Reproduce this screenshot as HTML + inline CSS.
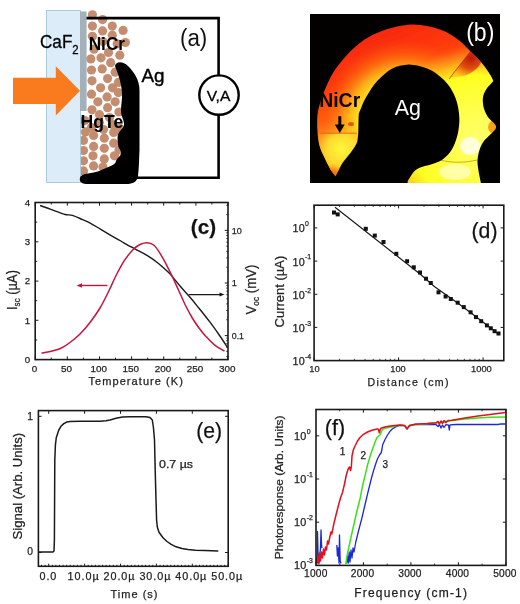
<!DOCTYPE html>
<html lang="en"><head><meta charset="utf-8"><title>Figure</title>
<style>html,body{margin:0;padding:0;background:#fff}body{width:520px;height:604px;overflow:hidden}svg{display:block;font-family:'Liberation Sans', sans-serif}#all{filter:blur(0.45px)}#pc text,#pd text,#pe text,#pf text{stroke:#222;stroke-width:0.25px}</style></head><body>
<svg width="520" height="604" viewBox="0 0 520 604">
<rect width="520" height="604" fill="#fff"/>
<g id="all">
<g id="pa">
<circle cx="92.4" cy="14.8" r="4.6" fill="#c58d70"/>
<circle cx="102.6" cy="19.6" r="4.6" fill="#c58d70"/>
<circle cx="92.4" cy="26.1" r="4.6" fill="#c58d70"/>
<circle cx="112.3" cy="26.1" r="4.6" fill="#c58d70"/>
<circle cx="102.6" cy="30.9" r="4.6" fill="#c58d70"/>
<circle cx="123.1" cy="30.4" r="4.6" fill="#c58d70"/>
<circle cx="112.3" cy="35.2" r="4.6" fill="#c58d70"/>
<circle cx="92.4" cy="36.3" r="4.6" fill="#c58d70"/>
<circle cx="102.8" cy="41.5" r="4.6" fill="#c58d70"/>
<circle cx="117.2" cy="43.8" r="4.6" fill="#c58d70"/>
<circle cx="125.3" cy="42.5" r="4.6" fill="#c58d70"/>
<circle cx="94.0" cy="49.2" r="4.6" fill="#c58d70"/>
<circle cx="108.5" cy="52.5" r="4.6" fill="#c58d70"/>
<circle cx="119.8" cy="55.2" r="4.6" fill="#c58d70"/>
<circle cx="90.8" cy="58.9" r="4.6" fill="#c58d70"/>
<circle cx="101.0" cy="57.8" r="4.6" fill="#c58d70"/>
<circle cx="110.7" cy="62.7" r="4.6" fill="#c58d70"/>
<circle cx="91.5" cy="70.0" r="4.6" fill="#c58d70"/>
<circle cx="102.2" cy="68.9" r="4.6" fill="#c58d70"/>
<circle cx="115.2" cy="72.2" r="4.6" fill="#c58d70"/>
<circle cx="92.0" cy="80.8" r="4.6" fill="#c58d70"/>
<circle cx="107.6" cy="78.6" r="4.6" fill="#c58d70"/>
<circle cx="118.4" cy="82.4" r="4.6" fill="#c58d70"/>
<circle cx="100.6" cy="87.8" r="4.6" fill="#c58d70"/>
<circle cx="112.5" cy="87.8" r="4.6" fill="#c58d70"/>
<circle cx="91.5" cy="94.2" r="4.6" fill="#c58d70"/>
<circle cx="107.1" cy="96.9" r="4.6" fill="#c58d70"/>
<circle cx="118.4" cy="92.6" r="4.6" fill="#c58d70"/>
<circle cx="97.9" cy="101.8" r="4.6" fill="#c58d70"/>
<circle cx="115.2" cy="101.8" r="4.6" fill="#c58d70"/>
<circle cx="107.6" cy="107.7" r="4.6" fill="#c58d70"/>
<circle cx="92.0" cy="109.8" r="4.6" fill="#c58d70"/>
<circle cx="118.9" cy="112.0" r="4.6" fill="#c58d70"/>
<circle cx="99.5" cy="114.7" r="4.6" fill="#c58d70"/>
<circle cx="84.8" cy="120.6" r="4.6" fill="#c58d70"/>
<circle cx="109.5" cy="117.5" r="4.6" fill="#c58d70"/>
<circle cx="99.3" cy="122.5" r="4.6" fill="#c58d70"/>
<circle cx="112.5" cy="124.5" r="4.6" fill="#c58d70"/>
<circle cx="91.5" cy="127.5" r="4.6" fill="#c58d70"/>
<circle cx="119.5" cy="128.0" r="4.6" fill="#c58d70"/>
<circle cx="85.4" cy="131.9" r="4.6" fill="#c58d70"/>
<circle cx="93.6" cy="135.5" r="4.6" fill="#c58d70"/>
<circle cx="104.3" cy="138.2" r="4.6" fill="#c58d70"/>
<circle cx="103.5" cy="129.5" r="4.6" fill="#c58d70"/>
<circle cx="113.7" cy="132.5" r="4.6" fill="#c58d70"/>
<circle cx="83.5" cy="140.4" r="4.6" fill="#c58d70"/>
<circle cx="93.6" cy="146.4" r="4.6" fill="#c58d70"/>
<circle cx="104.3" cy="148.3" r="4.6" fill="#c58d70"/>
<circle cx="113.7" cy="143.2" r="4.6" fill="#c58d70"/>
<circle cx="83.5" cy="150.6" r="4.6" fill="#c58d70"/>
<circle cx="93.0" cy="155.8" r="4.6" fill="#c58d70"/>
<circle cx="104.3" cy="158.9" r="4.6" fill="#c58d70"/>
<circle cx="114.4" cy="155.8" r="4.6" fill="#c58d70"/>
<circle cx="83.5" cy="160.8" r="4.6" fill="#c58d70"/>
<circle cx="93.6" cy="165.9" r="4.6" fill="#c58d70"/>
<circle cx="103.0" cy="167.1" r="4.6" fill="#c58d70"/>
<circle cx="83.5" cy="170.9" r="4.6" fill="#c58d70"/>
<circle cx="119.0" cy="150.0" r="4.6" fill="#c58d70"/>
<rect x="46.5" y="10.5" width="34" height="172" fill="#dcedf9" stroke="#a9cbdc" stroke-width="1"/>
<rect x="80" y="11.5" width="6.6" height="99.5" fill="#a3b2ba"/>
<path d="M115 66 C116 61 123 61 128 66 C134 72 139.5 80 139.5 90 L139.5 150 C139 160 139 168 138 176 C137 182 133 184 126 184 L90 184 C84 184.5 79.5 183 79.8 179 C80 175 84 174 88 173.5 C96 172.5 102 170 106 168 C111 166 115.5 164.5 116 161 C116.5 158 121.5 156 121 152.5 C120.5 149 118 148 118 144 C117.5 140 117 136 118.5 133 C120 130 124.5 128 124 123.5 C123.6 119 121 116 121 111 C121 104 122.5 99 122 93 C121.5 84 119 76 115 66 Z" fill="#000"/>
<path d="M86.5 18.1 H218.6 V75" fill="none" stroke="#000" stroke-width="2.6"/>
<path d="M218.6 115 V177.8 H132" fill="none" stroke="#000" stroke-width="2.6"/>
<circle cx="219" cy="95.1" r="19.7" fill="#fff" stroke="#000" stroke-width="2.4"/>
<path d="M13 77.7 H55.8 V66.2 L80 90.8 L55.8 115.6 V104 H13 Z" fill="#fa7a1e"/>
<text x="40.0" y="48.1" font-size="19" text-anchor="start" font-weight="normal" fill="#000" textLength="38.7" lengthAdjust="spacingAndGlyphs" stroke="#000" stroke-width="0.3">CaF<tspan font-size="12.6" dy="5.6">2</tspan></text>
<text x="88.7" y="49.8" font-size="19" text-anchor="start" font-weight="bold" fill="#000" textLength="36.3" lengthAdjust="spacingAndGlyphs" >NiCr</text>
<text x="80.6" y="128.3" font-size="19" text-anchor="start" font-weight="bold" fill="#000" textLength="42.7" lengthAdjust="spacingAndGlyphs" >HgTe</text>
<text x="141.5" y="82.1" font-size="18.3" text-anchor="start" font-weight="normal" fill="#000" textLength="23.1" lengthAdjust="spacingAndGlyphs" stroke="#000" stroke-width="0.4">Ag</text>
<text x="180.0" y="46.0" font-size="23.5" text-anchor="start" font-weight="normal" fill="#111" textLength="27.3" lengthAdjust="spacingAndGlyphs" >(a)</text>
<text x="218.5" y="100.6" font-size="15" text-anchor="middle" font-weight="normal" fill="#000" textLength="23.7" lengthAdjust="spacingAndGlyphs" stroke="#000" stroke-width="0.3">V,A</text>
</g>
<defs>
<clipPath id="bclip"><rect x="310.3" y="14.8" width="189.6" height="167.6"/></clipPath>
<linearGradient id="bg1" gradientUnits="userSpaceOnUse" x1="370" y1="25" x2="430" y2="182"><stop offset="0" stop-color="#f4240a"/><stop offset="0.25" stop-color="#ff380c"/><stop offset="0.42" stop-color="#ff5a10"/><stop offset="0.55" stop-color="#ff8a18"/><stop offset="0.68" stop-color="#ffc420"/><stop offset="0.8" stop-color="#fff230"/><stop offset="1" stop-color="#ffff58"/></linearGradient>
<radialGradient id="bg2" gradientUnits="userSpaceOnUse" cx="404" cy="124" r="100"><stop offset="0.46" stop-color="#ffe020" stop-opacity="1"/><stop offset="0.56" stop-color="#ffc018" stop-opacity="0.85"/><stop offset="0.68" stop-color="#ff8a12" stop-opacity="0.5"/><stop offset="0.84" stop-color="#ff5a10" stop-opacity="0"/></radialGradient>
<radialGradient id="bg3" gradientUnits="userSpaceOnUse" cx="478" cy="140" r="95"><stop offset="0" stop-color="#ffff70" stop-opacity="1"/><stop offset="0.68" stop-color="#ffff22" stop-opacity="1"/><stop offset="0.82" stop-color="#ffe61c" stop-opacity="0.6"/><stop offset="1" stop-color="#ffb020" stop-opacity="0"/></radialGradient>
<radialGradient id="bg4" gradientUnits="userSpaceOnUse" cx="341" cy="149" r="30"><stop offset="0" stop-color="#fff83c" stop-opacity="1"/><stop offset="0.5" stop-color="#ffe030" stop-opacity="0.85"/><stop offset="1" stop-color="#ffa018" stop-opacity="0"/></radialGradient>
<radialGradient id="bg5" gradientUnits="userSpaceOnUse" cx="331" cy="181" r="17"><stop offset="0" stop-color="#e83a0c" stop-opacity="0.95"/><stop offset="0.6" stop-color="#f4500e" stop-opacity="0.7"/><stop offset="1" stop-color="#ff7a10" stop-opacity="0"/></radialGradient>
<radialGradient id="bgw" gradientUnits="userSpaceOnUse" cx="471" cy="58" r="22"><stop offset="0" stop-color="#b41406" stop-opacity="0.95"/><stop offset="0.5" stop-color="#d8300a" stop-opacity="0.8"/><stop offset="1" stop-color="#ff6a10" stop-opacity="0.25"/></radialGradient>
<clipPath id="lowclip"><rect x="305" y="133.6" width="70" height="60"/></clipPath>
<filter id="bblur" x="-5%" y="-5%" width="110%" height="110%"><feGaussianBlur stdDeviation="0.7"/></filter>
</defs>
<g id="pb" clip-path="url(#bclip)">
<rect x="309" y="14" width="193" height="170" fill="#030100"/>
<g filter="url(#bblur)">
<path d="M336.2 177.0 C335.2 175.7 332.2 172.3 330.2 168.9 C328.2 165.5 325.9 160.6 324.1 156.8 C322.3 153.0 320.7 150.0 319.6 146.0 C318.5 142.0 318.0 137.2 317.6 133.0 C317.2 128.8 317.1 124.5 317.2 120.5 C317.3 116.5 317.4 113.8 318.5 109.0 C319.6 104.2 321.6 98.0 324.0 91.9 C326.4 85.9 329.4 78.8 333.1 72.7 C336.9 66.6 341.4 60.9 346.5 55.4 C351.6 49.9 357.7 44.2 363.8 40.0 C369.9 35.8 376.7 32.8 383.1 30.4 C389.5 28.0 397.2 26.6 402.3 25.6 C407.4 24.6 409.9 24.3 414.0 24.4 C418.1 24.5 422.7 25.1 427.0 26.0 C431.3 26.9 436.2 28.2 440.0 29.6 C443.8 31.0 446.6 32.2 450.0 34.2 C453.4 36.2 457.1 38.6 460.5 41.5 C463.9 44.4 467.0 48.0 470.4 51.5 C473.8 55.0 478.2 59.0 481.1 62.3 C484.0 65.6 486.0 68.4 488.0 71.5 C490.0 74.6 491.5 76.8 493.3 81.1 C495.1 85.3 497.6 90.8 499.0 97.0 C500.4 103.2 501.7 110.0 502.0 118.0 C502.3 126.0 502.3 136.0 501.0 145.0 C499.7 154.0 497.2 163.5 494.0 172.0 C490.8 180.5 491.0 190.3 482.0 196.0 C473.0 201.7 457.0 204.3 440.0 206.0 C423.0 207.7 395.7 208.3 380.0 206.0 C364.3 203.7 353.3 196.8 346.0 192.0 C338.7 187.2 337.8 179.5 336.2 177.0 Z" fill="url(#bg1)"/>
<path d="M336.2 177.0 C335.2 175.7 332.2 172.3 330.2 168.9 C328.2 165.5 325.9 160.6 324.1 156.8 C322.3 153.0 320.7 150.0 319.6 146.0 C318.5 142.0 318.0 137.2 317.6 133.0 C317.2 128.8 317.1 124.5 317.2 120.5 C317.3 116.5 317.4 113.8 318.5 109.0 C319.6 104.2 321.6 98.0 324.0 91.9 C326.4 85.9 329.4 78.8 333.1 72.7 C336.9 66.6 341.4 60.9 346.5 55.4 C351.6 49.9 357.7 44.2 363.8 40.0 C369.9 35.8 376.7 32.8 383.1 30.4 C389.5 28.0 397.2 26.6 402.3 25.6 C407.4 24.6 409.9 24.3 414.0 24.4 C418.1 24.5 422.7 25.1 427.0 26.0 C431.3 26.9 436.2 28.2 440.0 29.6 C443.8 31.0 446.6 32.2 450.0 34.2 C453.4 36.2 457.1 38.6 460.5 41.5 C463.9 44.4 467.0 48.0 470.4 51.5 C473.8 55.0 478.2 59.0 481.1 62.3 C484.0 65.6 486.0 68.4 488.0 71.5 C490.0 74.6 491.5 76.8 493.3 81.1 C495.1 85.3 497.6 90.8 499.0 97.0 C500.4 103.2 501.7 110.0 502.0 118.0 C502.3 126.0 502.3 136.0 501.0 145.0 C499.7 154.0 497.2 163.5 494.0 172.0 C490.8 180.5 491.0 190.3 482.0 196.0 C473.0 201.7 457.0 204.3 440.0 206.0 C423.0 207.7 395.7 208.3 380.0 206.0 C364.3 203.7 353.3 196.8 346.0 192.0 C338.7 187.2 337.8 179.5 336.2 177.0 Z" fill="url(#bg2)"/>
<path d="M336.2 177.0 C335.2 175.7 332.2 172.3 330.2 168.9 C328.2 165.5 325.9 160.6 324.1 156.8 C322.3 153.0 320.7 150.0 319.6 146.0 C318.5 142.0 318.0 137.2 317.6 133.0 C317.2 128.8 317.1 124.5 317.2 120.5 C317.3 116.5 317.4 113.8 318.5 109.0 C319.6 104.2 321.6 98.0 324.0 91.9 C326.4 85.9 329.4 78.8 333.1 72.7 C336.9 66.6 341.4 60.9 346.5 55.4 C351.6 49.9 357.7 44.2 363.8 40.0 C369.9 35.8 376.7 32.8 383.1 30.4 C389.5 28.0 397.2 26.6 402.3 25.6 C407.4 24.6 409.9 24.3 414.0 24.4 C418.1 24.5 422.7 25.1 427.0 26.0 C431.3 26.9 436.2 28.2 440.0 29.6 C443.8 31.0 446.6 32.2 450.0 34.2 C453.4 36.2 457.1 38.6 460.5 41.5 C463.9 44.4 467.0 48.0 470.4 51.5 C473.8 55.0 478.2 59.0 481.1 62.3 C484.0 65.6 486.0 68.4 488.0 71.5 C490.0 74.6 491.5 76.8 493.3 81.1 C495.1 85.3 497.6 90.8 499.0 97.0 C500.4 103.2 501.7 110.0 502.0 118.0 C502.3 126.0 502.3 136.0 501.0 145.0 C499.7 154.0 497.2 163.5 494.0 172.0 C490.8 180.5 491.0 190.3 482.0 196.0 C473.0 201.7 457.0 204.3 440.0 206.0 C423.0 207.7 395.7 208.3 380.0 206.0 C364.3 203.7 353.3 196.8 346.0 192.0 C338.7 187.2 337.8 179.5 336.2 177.0 Z" fill="url(#bg3)"/>
<path d="M336.2 177.0 C335.2 175.7 332.2 172.3 330.2 168.9 C328.2 165.5 325.9 160.6 324.1 156.8 C322.3 153.0 320.7 150.0 319.6 146.0 C318.5 142.0 318.0 137.2 317.6 133.0 C317.2 128.8 317.1 124.5 317.2 120.5 C317.3 116.5 317.4 113.8 318.5 109.0 C319.6 104.2 321.6 98.0 324.0 91.9 C326.4 85.9 329.4 78.8 333.1 72.7 C336.9 66.6 341.4 60.9 346.5 55.4 C351.6 49.9 357.7 44.2 363.8 40.0 C369.9 35.8 376.7 32.8 383.1 30.4 C389.5 28.0 397.2 26.6 402.3 25.6 C407.4 24.6 409.9 24.3 414.0 24.4 C418.1 24.5 422.7 25.1 427.0 26.0 C431.3 26.9 436.2 28.2 440.0 29.6 C443.8 31.0 446.6 32.2 450.0 34.2 C453.4 36.2 457.1 38.6 460.5 41.5 C463.9 44.4 467.0 48.0 470.4 51.5 C473.8 55.0 478.2 59.0 481.1 62.3 C484.0 65.6 486.0 68.4 488.0 71.5 C490.0 74.6 491.5 76.8 493.3 81.1 C495.1 85.3 497.6 90.8 499.0 97.0 C500.4 103.2 501.7 110.0 502.0 118.0 C502.3 126.0 502.3 136.0 501.0 145.0 C499.7 154.0 497.2 163.5 494.0 172.0 C490.8 180.5 491.0 190.3 482.0 196.0 C473.0 201.7 457.0 204.3 440.0 206.0 C423.0 207.7 395.7 208.3 380.0 206.0 C364.3 203.7 353.3 196.8 346.0 192.0 C338.7 187.2 337.8 179.5 336.2 177.0 Z" fill="url(#bg4)" opacity="0.35"/>
<g clip-path="url(#lowclip)"><path d="M336.2 177.0 C335.2 175.7 332.2 172.3 330.2 168.9 C328.2 165.5 325.9 160.6 324.1 156.8 C322.3 153.0 320.7 150.0 319.6 146.0 C318.5 142.0 318.0 137.2 317.6 133.0 C317.2 128.8 317.1 124.5 317.2 120.5 C317.3 116.5 317.4 113.8 318.5 109.0 C319.6 104.2 321.6 98.0 324.0 91.9 C326.4 85.9 329.4 78.8 333.1 72.7 C336.9 66.6 341.4 60.9 346.5 55.4 C351.6 49.9 357.7 44.2 363.8 40.0 C369.9 35.8 376.7 32.8 383.1 30.4 C389.5 28.0 397.2 26.6 402.3 25.6 C407.4 24.6 409.9 24.3 414.0 24.4 C418.1 24.5 422.7 25.1 427.0 26.0 C431.3 26.9 436.2 28.2 440.0 29.6 C443.8 31.0 446.6 32.2 450.0 34.2 C453.4 36.2 457.1 38.6 460.5 41.5 C463.9 44.4 467.0 48.0 470.4 51.5 C473.8 55.0 478.2 59.0 481.1 62.3 C484.0 65.6 486.0 68.4 488.0 71.5 C490.0 74.6 491.5 76.8 493.3 81.1 C495.1 85.3 497.6 90.8 499.0 97.0 C500.4 103.2 501.7 110.0 502.0 118.0 C502.3 126.0 502.3 136.0 501.0 145.0 C499.7 154.0 497.2 163.5 494.0 172.0 C490.8 180.5 491.0 190.3 482.0 196.0 C473.0 201.7 457.0 204.3 440.0 206.0 C423.0 207.7 395.7 208.3 380.0 206.0 C364.3 203.7 353.3 196.8 346.0 192.0 C338.7 187.2 337.8 179.5 336.2 177.0 Z" fill="url(#bg4)"/></g>
<path d="M336.2 177.0 C335.2 175.7 332.2 172.3 330.2 168.9 C328.2 165.5 325.9 160.6 324.1 156.8 C322.3 153.0 320.7 150.0 319.6 146.0 C318.5 142.0 318.0 137.2 317.6 133.0 C317.2 128.8 317.1 124.5 317.2 120.5 C317.3 116.5 317.4 113.8 318.5 109.0 C319.6 104.2 321.6 98.0 324.0 91.9 C326.4 85.9 329.4 78.8 333.1 72.7 C336.9 66.6 341.4 60.9 346.5 55.4 C351.6 49.9 357.7 44.2 363.8 40.0 C369.9 35.8 376.7 32.8 383.1 30.4 C389.5 28.0 397.2 26.6 402.3 25.6 C407.4 24.6 409.9 24.3 414.0 24.4 C418.1 24.5 422.7 25.1 427.0 26.0 C431.3 26.9 436.2 28.2 440.0 29.6 C443.8 31.0 446.6 32.2 450.0 34.2 C453.4 36.2 457.1 38.6 460.5 41.5 C463.9 44.4 467.0 48.0 470.4 51.5 C473.8 55.0 478.2 59.0 481.1 62.3 C484.0 65.6 486.0 68.4 488.0 71.5 C490.0 74.6 491.5 76.8 493.3 81.1 C495.1 85.3 497.6 90.8 499.0 97.0 C500.4 103.2 501.7 110.0 502.0 118.0 C502.3 126.0 502.3 136.0 501.0 145.0 C499.7 154.0 497.2 163.5 494.0 172.0 C490.8 180.5 491.0 190.3 482.0 196.0 C473.0 201.7 457.0 204.3 440.0 206.0 C423.0 207.7 395.7 208.3 380.0 206.0 C364.3 203.7 353.3 196.8 346.0 192.0 C338.7 187.2 337.8 179.5 336.2 177.0 Z" fill="url(#bg5)"/>
<path d="M450.2 77.1 L470.4 51.5 L476 56.5 L481.1 62.3 C479.5 66 477.5 68.5 474.4 70.4 C471 73 467.5 74.8 463.6 75.8 C459 77 454.5 77.3 450.2 77.1 Z" fill="url(#bgw)"/>
<path d="M470.4 51.5 L449 79" stroke="#a82408" stroke-width="0.9" opacity="0.75" fill="none"/>
<path d="M320.5 133.3 L357 133.3" stroke="#e85a10" stroke-width="1.4" opacity="0.55"/>
<ellipse cx="351" cy="124" rx="3" ry="2" fill="#e8380c" opacity="0.8"/>
<circle cx="495" cy="127" r="7" fill="#f88a10" opacity="0.8"/>
<ellipse cx="470" cy="146" rx="10" ry="9" fill="#fffff0" opacity="0.85"/>
<ellipse cx="455" cy="172" rx="16" ry="8" fill="#ffffd0" opacity="0.7"/>
<path d="M440 160 C452 163 464 163 477 160" stroke="#b8a010" stroke-width="1" fill="none" opacity="0.8"/>
<path d="M407.9 64.4 C409.2 64.5 413.0 64.6 416.0 65.2 C419.0 65.8 423.1 66.9 425.8 67.9 C428.6 68.9 430.4 69.8 432.5 71.0 C434.6 72.2 436.8 73.9 438.7 75.4 C440.6 76.9 442.4 78.4 444.0 80.0 C445.6 81.6 447.0 83.2 448.4 85.1 C449.8 87.0 451.3 89.3 452.5 91.5 C453.7 93.7 454.7 95.8 455.5 98.0 C456.3 100.2 457.0 102.3 457.5 104.5 C458.0 106.7 458.4 108.8 458.7 111.0 C459.0 113.2 459.2 115.3 459.3 117.5 C459.4 119.7 459.4 121.7 459.2 123.9 C459.0 126.1 458.8 128.3 458.4 130.5 C458.0 132.7 457.6 134.6 457.0 136.8 C456.4 139.0 455.7 141.3 454.8 143.5 C453.9 145.7 452.8 147.9 451.7 149.7 C450.6 151.5 449.5 153.1 448.2 154.5 C446.9 155.9 445.4 157.2 444.1 158.3 C442.8 159.4 441.8 160.1 440.5 160.8 C439.2 161.5 438.2 162.0 436.6 162.6 C435.0 163.2 432.8 164.0 431.0 164.5 C429.2 165.0 427.5 165.4 425.8 165.8 C424.1 166.2 422.4 166.7 421.0 167.2 C419.6 167.7 418.4 168.3 417.2 169.0 C416.0 169.7 414.9 170.6 414.0 171.5 C413.1 172.4 412.6 173.3 411.8 174.5 C411.0 175.7 410.0 177.2 409.3 178.5 C408.6 179.8 408.1 180.1 407.5 182.0 C406.9 183.9 419.6 188.7 406.0 190.0 C392.4 191.3 338.5 191.3 326.0 190.0 C313.5 188.7 329.3 184.5 331.0 182.0 C332.7 179.5 334.5 177.8 336.2 175.0 C337.9 172.2 339.4 167.9 341.3 164.9 C343.2 161.9 345.7 158.9 347.3 156.8 C348.9 154.7 349.8 153.8 350.8 152.5 C351.8 151.2 352.5 150.1 353.4 148.8 C354.3 147.5 355.3 145.8 356.0 144.5 C356.7 143.2 357.0 142.4 357.4 140.7 C357.8 138.9 358.0 136.3 358.2 134.0 C358.4 131.7 358.3 128.9 358.4 126.6 C358.4 124.3 358.4 121.9 358.5 120.0 C358.6 118.1 358.6 116.3 358.7 115.0 C358.8 113.7 359.0 113.0 359.4 112.0 C359.8 111.0 360.0 110.7 360.8 108.8 C361.6 106.9 362.8 103.5 364.1 100.8 C365.4 98.1 367.1 95.4 368.8 92.7 C370.5 90.0 372.2 87.2 374.2 84.6 C376.2 82.0 378.5 79.5 381.0 77.2 C383.5 74.9 386.3 72.3 389.0 70.5 C391.7 68.7 394.0 67.4 397.1 66.4 C400.2 65.4 406.1 64.7 407.9 64.4 Z" fill="#040100"/>
<path d="M492.6 81.9 C491.5 83.2 487.7 86.7 486.1 89.4 C484.5 92.1 483.2 94.8 482.9 98.0 C482.5 101.2 483.1 105.6 484.0 108.8 C484.9 112.0 486.5 114.9 488.3 117.4 C490.1 119.9 493.4 122.1 494.7 123.9 C495.9 125.7 496.5 126.4 495.8 128.2 C495.1 130.0 492.4 132.4 490.4 134.6 C488.4 136.8 485.7 138.6 483.9 141.1 C482.1 143.6 480.7 146.5 479.6 149.7 C478.5 152.9 477.7 156.9 477.5 160.5 C477.3 164.1 478.1 167.6 478.6 171.2 C479.1 174.8 480.1 178.9 480.7 182.0 C481.3 185.1 481.8 188.7 482.0 190.0 L512 190 L512 60 L500 70 Z" fill="#040100"/>
</g>
<text x="319.2" y="106.9" font-size="19.8" text-anchor="start" font-weight="bold" fill="#0a0500" textLength="41.0" lengthAdjust="spacingAndGlyphs" >NiCr</text>
<path d="M339.8 116.2 V127" stroke="#0a0500" stroke-width="3" fill="none"/>
<path d="M334.8 124.4 L339.8 133 L344.7 124.4 Z" fill="#0a0500"/>
<text x="394.8" y="115.3" font-size="22.6" text-anchor="start" font-weight="normal" fill="#fff" textLength="26.2" lengthAdjust="spacingAndGlyphs" >Ag</text>
<text x="466.2" y="41.3" font-size="26.3" text-anchor="start" font-weight="normal" fill="#fff" textLength="28.2" lengthAdjust="spacingAndGlyphs" >(b)</text>
</g>
<g id="pc">
<rect x="35.2" y="202.5" width="192.8" height="157.1" fill="none" stroke="#1a1a1a" stroke-width="1.6"/>
<path d="M35.2 359.6v-3.2M67.3 359.6v-3.2M99.5 359.6v-3.2M131.6 359.6v-3.2M163.7 359.6v-3.2M195.9 359.6v-3.2M228.0 359.6v-3.2" stroke="#1a1a1a" stroke-width="1.0" fill="none"/>
<path d="M51.3 359.6v-2.0M83.4 359.6v-2.0M115.5 359.6v-2.0M147.7 359.6v-2.0M179.8 359.6v-2.0M211.9 359.6v-2.0" stroke="#1a1a1a" stroke-width="1.0" fill="none"/>
<path d="M35.2 202.5v3.2M67.3 202.5v3.2M99.5 202.5v3.2M131.6 202.5v3.2M163.7 202.5v3.2M195.9 202.5v3.2M228.0 202.5v3.2" stroke="#1a1a1a" stroke-width="1.0" fill="none"/>
<path d="M51.3 202.5v2.0M83.4 202.5v2.0M115.5 202.5v2.0M147.7 202.5v2.0M179.8 202.5v2.0M211.9 202.5v2.0" stroke="#1a1a1a" stroke-width="1.0" fill="none"/>
<path d="M35.2 359.6h3.2M35.2 320.3h3.2M35.2 281.1h3.2M35.2 241.8h3.2M35.2 202.5h3.2" stroke="#1a1a1a" stroke-width="1.0" fill="none"/>
<path d="M35.2 340.0h2.0M35.2 300.7h2.0M35.2 261.4h2.0M35.2 222.1h2.0" stroke="#1a1a1a" stroke-width="1.0" fill="none"/>
<path d="M228.0 335.6h-3.2M228.0 283.0h-3.2M228.0 230.4h-3.2" stroke="#1a1a1a" stroke-width="1.0" fill="none"/>
<path d="M228.0 356.5h-1.8M228.0 351.4h-1.8M228.0 347.3h-1.8M228.0 343.7h-1.8M228.0 340.7h-1.8M228.0 338.0h-1.8M228.0 319.8h-1.8M228.0 310.5h-1.8M228.0 303.9h-1.8M228.0 298.8h-1.8M228.0 294.7h-1.8M228.0 291.1h-1.8M228.0 288.1h-1.8M228.0 285.4h-1.8M228.0 267.2h-1.8M228.0 257.9h-1.8M228.0 251.3h-1.8M228.0 246.2h-1.8M228.0 242.1h-1.8M228.0 238.5h-1.8M228.0 235.5h-1.8M228.0 232.8h-1.8M228.0 214.6h-1.8M228.0 205.3h-1.8" stroke="#1a1a1a" stroke-width="0.8" fill="none"/>
<text x="34.4" y="371.8" font-size="9.9" text-anchor="middle" font-weight="normal" fill="#222" >0</text>
<text x="66.5" y="371.8" font-size="9.9" text-anchor="middle" font-weight="normal" fill="#222" >50</text>
<text x="98.7" y="371.8" font-size="9.9" text-anchor="middle" font-weight="normal" fill="#222" >100</text>
<text x="130.8" y="371.8" font-size="9.9" text-anchor="middle" font-weight="normal" fill="#222" >150</text>
<text x="162.9" y="371.8" font-size="9.9" text-anchor="middle" font-weight="normal" fill="#222" >200</text>
<text x="195.1" y="371.8" font-size="9.9" text-anchor="middle" font-weight="normal" fill="#222" >250</text>
<text x="227.2" y="371.8" font-size="9.9" text-anchor="middle" font-weight="normal" fill="#222" >300</text>
<text x="30.2" y="362.8" font-size="9.7" text-anchor="end" font-weight="normal" fill="#222" >0</text>
<text x="30.2" y="323.5" font-size="9.7" text-anchor="end" font-weight="normal" fill="#222" >1</text>
<text x="30.2" y="284.2" font-size="9.7" text-anchor="end" font-weight="normal" fill="#222" >2</text>
<text x="30.2" y="245.0" font-size="9.7" text-anchor="end" font-weight="normal" fill="#222" >3</text>
<text x="30.2" y="205.7" font-size="9.7" text-anchor="end" font-weight="normal" fill="#222" >4</text>
<text x="231.8" y="233.8" font-size="9.3" text-anchor="start" font-weight="normal" fill="#222" textLength="10.0" lengthAdjust="spacingAndGlyphs" >10</text>
<text x="231.8" y="286.4" font-size="9.3" text-anchor="start" font-weight="normal" fill="#222" >1</text>
<text x="231.8" y="339.2" font-size="9.3" text-anchor="start" font-weight="normal" fill="#222" textLength="12.2" lengthAdjust="spacingAndGlyphs" >0.1</text>
<text x="135.7" y="385.3" font-size="11" text-anchor="middle" font-weight="normal" fill="#222" textLength="94.4" lengthAdjust="spacing" >Temperature (K)</text>
<text transform="translate(16.8 290.0) rotate(-90)" font-size="14.5" text-anchor="middle" font-weight="normal" fill="#222" textLength="40.0" lengthAdjust="spacingAndGlyphs">I<tspan font-size="9" dy="3">sc</tspan><tspan dy="-3"> (µA)</tspan></text>
<text transform="translate(256.0 289.5) rotate(-90)" font-size="14.5" text-anchor="middle" font-weight="normal" fill="#222" textLength="50.0" lengthAdjust="spacingAndGlyphs">V<tspan font-size="9" dy="3">oc</tspan><tspan dy="-3"> (mV)</tspan></text>
<path d="M40.1 205.5 C41.8 206.1 46.2 207.7 50.2 209.1 C54.2 210.5 60.6 213.1 64.3 214.2 C68.0 215.2 69.4 214.5 72.4 215.4 C75.4 216.3 79.5 218.3 82.5 219.6 C85.5 220.9 87.6 221.7 90.6 223.3 C93.6 224.9 97.3 227.3 100.7 229.3 C104.1 231.3 107.4 233.5 110.8 235.4 C114.2 237.3 118.5 239.6 120.9 241.0 C123.3 242.4 122.5 242.2 125.0 243.6 C127.5 245.0 132.5 247.6 136.2 249.6 C139.9 251.6 143.7 253.4 147.4 255.7 C151.1 258.0 154.8 260.5 158.5 263.5 C162.2 266.5 167.3 271.3 169.7 273.6 C172.1 275.9 171.1 275.3 173.0 277.5 C174.9 279.7 178.1 283.8 180.9 287.0 C183.7 290.2 186.8 293.5 189.8 297.0 C192.8 300.5 195.4 303.8 198.8 308.0 C202.2 312.2 206.7 317.8 210.0 322.2 C213.3 326.6 216.0 330.4 218.9 334.5 C221.8 338.6 225.8 344.9 227.2 347.0" fill="none" stroke="#1a1a1a" stroke-width="1.4"/>
<path d="M41.5 353.2 C43.2 352.8 48.8 351.8 52.0 351.0 C55.2 350.2 58.0 349.6 61.0 348.2 C64.0 346.8 66.8 344.9 70.0 342.5 C73.2 340.1 76.7 337.3 80.0 334.0 C83.3 330.7 86.7 326.8 90.0 322.5 C93.3 318.2 96.9 313.2 100.0 308.0 C103.1 302.8 106.0 296.7 108.8 291.0 C111.6 285.3 114.1 279.2 116.8 274.0 C119.5 268.8 122.1 263.8 124.9 259.6 C127.8 255.4 131.3 251.4 133.9 248.8 C136.5 246.2 138.3 245.2 140.6 244.2 C142.8 243.2 145.2 242.5 147.4 242.7 C149.6 242.9 151.8 243.2 154.0 245.2 C156.2 247.2 158.6 251.0 160.8 254.6 C163.1 258.2 165.5 263.0 167.5 266.9 C169.5 270.8 171.2 274.1 173.0 278.0 C174.8 281.9 176.5 285.8 178.6 290.3 C180.7 294.8 183.1 300.5 185.3 305.0 C187.5 309.5 189.8 313.7 192.0 317.5 C194.2 321.3 196.6 324.7 198.8 327.8 C201.1 330.9 202.9 333.2 205.5 336.0 C208.1 338.8 211.2 342.3 214.4 344.8 C217.6 347.3 222.8 350.1 224.5 351.2" fill="none" stroke="#c8143c" stroke-width="1.5"/>
<path d="M80 285.5 H107.5" stroke="#c8143c" stroke-width="1.4" fill="none"/>
<path d="M76.5 285.5 L82 283.3 L82 287.7 Z" fill="#c8143c"/>
<path d="M188.7 294.6 H221" stroke="#1a1a1a" stroke-width="1.2" fill="none"/>
<path d="M224.5 294.6 L219.5 292.6 L219.5 296.6 Z" fill="#1a1a1a"/>
<text x="190.8" y="234.0" font-size="21" text-anchor="start" font-weight="bold" fill="#111" textLength="25.2" lengthAdjust="spacingAndGlyphs" >(c)</text>
</g>
<g id="pd">
<rect x="314.1" y="205.2" width="189.7" height="155.4" fill="none" stroke="#1a1a1a" stroke-width="1.6"/>
<path d="M314.1 360.6v-3.2M398.6 360.6v-3.2M483.1 360.6v-3.2" stroke="#1a1a1a" stroke-width="1.0" fill="none"/>
<path d="M339.5 360.6v-1.8M354.4 360.6v-1.8M365.0 360.6v-1.8M373.2 360.6v-1.8M379.9 360.6v-1.8M385.5 360.6v-1.8M390.4 360.6v-1.8M394.7 360.6v-1.8M424.0 360.6v-1.8M438.9 360.6v-1.8M449.5 360.6v-1.8M457.7 360.6v-1.8M464.4 360.6v-1.8M470.0 360.6v-1.8M474.9 360.6v-1.8M479.2 360.6v-1.8" stroke="#1a1a1a" stroke-width="0.8" fill="none"/>
<path d="M314.1 205.2v3.2M398.6 205.2v3.2M483.1 205.2v3.2" stroke="#1a1a1a" stroke-width="1.0" fill="none"/>
<path d="M339.5 205.2v1.8M354.4 205.2v1.8M365.0 205.2v1.8M373.2 205.2v1.8M379.9 205.2v1.8M385.5 205.2v1.8M390.4 205.2v1.8M394.7 205.2v1.8M424.0 205.2v1.8M438.9 205.2v1.8M449.5 205.2v1.8M457.7 205.2v1.8M464.4 205.2v1.8M470.0 205.2v1.8M474.9 205.2v1.8M479.2 205.2v1.8" stroke="#1a1a1a" stroke-width="0.8" fill="none"/>
<path d="M314.1 227.9h3.2M314.1 261.1h3.2M314.1 294.3h3.2M314.1 327.4h3.2M314.1 360.6h3.2" stroke="#1a1a1a" stroke-width="1.0" fill="none"/>
<path d="M503.8 227.9h-3.2M503.8 261.1h-3.2M503.8 294.3h-3.2M503.8 327.4h-3.2M503.8 360.6h-3.2" stroke="#1a1a1a" stroke-width="1.0" fill="none"/>
<text x="292.4" y="232.3" font-size="10.8" text-anchor="start" fill="#222" letter-spacing="0.3">10<tspan font-size="6.9" dy="-6.2" letter-spacing="0">0</tspan></text>
<text x="292.4" y="265.5" font-size="10.8" text-anchor="start" fill="#222" letter-spacing="0.3">10<tspan font-size="6.9" dy="-6.2" letter-spacing="0">-1</tspan></text>
<text x="292.4" y="298.7" font-size="10.8" text-anchor="start" fill="#222" letter-spacing="0.3">10<tspan font-size="6.9" dy="-6.2" letter-spacing="0">-2</tspan></text>
<text x="292.4" y="331.8" font-size="10.8" text-anchor="start" fill="#222" letter-spacing="0.3">10<tspan font-size="6.9" dy="-6.2" letter-spacing="0">-3</tspan></text>
<text x="292.4" y="365.0" font-size="10.8" text-anchor="start" fill="#222" letter-spacing="0.3">10<tspan font-size="6.9" dy="-6.2" letter-spacing="0">-4</tspan></text>
<text x="314.5" y="372.0" font-size="9.3" text-anchor="middle" font-weight="normal" fill="#222" >10</text>
<text x="398.0" y="372.0" font-size="9.3" text-anchor="middle" font-weight="normal" fill="#222" >100</text>
<text x="481.4" y="372.0" font-size="9.3" text-anchor="middle" font-weight="normal" fill="#222" >1000</text>
<text x="408.0" y="386.3" font-size="10.6" text-anchor="middle" font-weight="normal" fill="#222" textLength="81.0" lengthAdjust="spacing" >Distance (cm)</text>
<text transform="translate(284.3 291.6) rotate(-90)" font-size="13" text-anchor="middle" font-weight="normal" fill="#222" textLength="71.6" lengthAdjust="spacingAndGlyphs">Current (µA)</text>
<polyline points="335.0,207.3 420.0,274.0 435.0,287.0 458.0,303.3 475.4,316.3 498.5,334.0" fill="none" stroke="#1a1a1a" stroke-width="1.2"/>
<rect x="332.0" y="210.5" width="4" height="4" fill="#111"/>
<rect x="335.7" y="212.4" width="4" height="4" fill="#111"/>
<rect x="363.8" y="226.8" width="4" height="4" fill="#111"/>
<rect x="372.8" y="233.6" width="4" height="4" fill="#111"/>
<rect x="381.5" y="240.0" width="4" height="4" fill="#111"/>
<rect x="394.3" y="251.8" width="4" height="4" fill="#111"/>
<rect x="405.1" y="259.2" width="4" height="4" fill="#111"/>
<rect x="411.8" y="265.3" width="4" height="4" fill="#111"/>
<rect x="418.0" y="270.5" width="4" height="4" fill="#111"/>
<rect x="424.0" y="276.7" width="4" height="4" fill="#111"/>
<rect x="428.8" y="281.0" width="4" height="4" fill="#111"/>
<rect x="436.5" y="290.3" width="4" height="4" fill="#111"/>
<rect x="443.6" y="294.5" width="4" height="4" fill="#111"/>
<rect x="448.8" y="297.0" width="4" height="4" fill="#111"/>
<rect x="455.7" y="300.7" width="4" height="4" fill="#111"/>
<rect x="461.8" y="305.1" width="4" height="4" fill="#111"/>
<rect x="468.6" y="310.3" width="4" height="4" fill="#111"/>
<rect x="474.0" y="315.1" width="4" height="4" fill="#111"/>
<rect x="479.2" y="319.2" width="4" height="4" fill="#111"/>
<rect x="484.9" y="323.4" width="4" height="4" fill="#111"/>
<rect x="488.8" y="326.3" width="4" height="4" fill="#111"/>
<rect x="492.6" y="329.2" width="4" height="4" fill="#111"/>
<rect x="496.5" y="331.5" width="4" height="4" fill="#111"/>
<text x="471.5" y="237.7" font-size="21.5" text-anchor="start" font-weight="normal" fill="#111" textLength="26.0" lengthAdjust="spacingAndGlyphs" stroke="#111" stroke-width="0.25">(d)</text>
</g>
<g id="pe">
<rect x="38.4" y="410.6" width="189.8" height="155.7" fill="none" stroke="#1a1a1a" stroke-width="1.6"/>
<path d="M48.7 566.3v-2.6M84.6 566.3v-2.6M120.5 566.3v-2.6M156.4 566.3v-2.6M192.3 566.3v-2.6M228.2 566.3v-2.6" stroke="#1a1a1a" stroke-width="1.0" fill="none"/>
<path d="M41.5 566.3v-1.5M45.1 566.3v-1.5M52.3 566.3v-1.5M55.9 566.3v-1.5M59.5 566.3v-1.5M63.1 566.3v-1.5M66.7 566.3v-1.5M70.2 566.3v-1.5M73.8 566.3v-1.5M77.4 566.3v-1.5M81.0 566.3v-1.5M88.2 566.3v-1.5M91.8 566.3v-1.5M95.4 566.3v-1.5M99.0 566.3v-1.5M102.6 566.3v-1.5M106.1 566.3v-1.5M109.7 566.3v-1.5M113.3 566.3v-1.5M116.9 566.3v-1.5M124.1 566.3v-1.5M127.7 566.3v-1.5M131.3 566.3v-1.5M134.9 566.3v-1.5M138.4 566.3v-1.5M142.0 566.3v-1.5M145.6 566.3v-1.5M149.2 566.3v-1.5M152.8 566.3v-1.5M160.0 566.3v-1.5M163.6 566.3v-1.5M167.2 566.3v-1.5M170.8 566.3v-1.5M174.4 566.3v-1.5M177.9 566.3v-1.5M181.5 566.3v-1.5M185.1 566.3v-1.5M188.7 566.3v-1.5M195.9 566.3v-1.5M199.5 566.3v-1.5M203.1 566.3v-1.5M206.7 566.3v-1.5M210.2 566.3v-1.5M213.8 566.3v-1.5M217.4 566.3v-1.5M221.0 566.3v-1.5M224.6 566.3v-1.5" stroke="#1a1a1a" stroke-width="1.0" fill="none"/>
<path d="M48.7 410.6v3.2M84.6 410.6v3.2M120.5 410.6v3.2M156.4 410.6v3.2M192.3 410.6v3.2" stroke="#1a1a1a" stroke-width="1.0" fill="none"/>
<path d="M38.4 416.3h3.2M38.4 552.5h3.2" stroke="#1a1a1a" stroke-width="1.0" fill="none"/>
<path d="M228.2 416.3h-3.2M228.2 552.5h-3.2" stroke="#1a1a1a" stroke-width="1.0" fill="none"/>
<text x="33.0" y="420.0" font-size="10.3" text-anchor="end" font-weight="normal" fill="#222" >1</text>
<text x="33.0" y="555.2" font-size="10.3" text-anchor="end" font-weight="normal" fill="#222" >0</text>
<text x="48.4" y="580.2" font-size="10.8" text-anchor="middle" font-weight="normal" fill="#222" letter-spacing="0.95" >0.0</text>
<text x="83.6" y="580.2" font-size="10.8" text-anchor="middle" font-weight="normal" fill="#222" letter-spacing="0.95" >10.0µ</text>
<text x="119.5" y="580.2" font-size="10.8" text-anchor="middle" font-weight="normal" fill="#222" letter-spacing="0.95" >20.0µ</text>
<text x="155.4" y="580.2" font-size="10.8" text-anchor="middle" font-weight="normal" fill="#222" letter-spacing="0.95" >30.0µ</text>
<text x="191.3" y="580.2" font-size="10.8" text-anchor="middle" font-weight="normal" fill="#222" letter-spacing="0.95" >40.0µ</text>
<text x="227.2" y="580.2" font-size="10.8" text-anchor="middle" font-weight="normal" fill="#222" letter-spacing="0.95" >50.0µ</text>
<text x="134.0" y="598.0" font-size="11" text-anchor="middle" font-weight="normal" fill="#222" textLength="47.0" lengthAdjust="spacing" >Time (s)</text>
<text transform="translate(21.8 486.2) rotate(-90)" font-size="12.2" text-anchor="middle" font-weight="normal" fill="#222" textLength="106.5" lengthAdjust="spacingAndGlyphs">Signal (Arb. Units)</text>
<polyline points="38.2,552.0 53.0,552.0 54.0,551.0 54.4,540.0 54.6,500.0 54.8,460.0 55.4,445.0 56.3,437.5 58.8,430.0 61.0,426.3 63.8,423.6 67.0,422.0 70.0,421.4 80.0,421.2 100.0,421.3 106.0,420.8 110.0,420.0 116.0,418.2 122.5,417.0 130.0,416.7 146.0,416.7 150.0,417.5 152.3,420.0 153.5,428.0 154.5,440.0 155.2,470.0 156.0,500.0 156.6,520.0 157.3,527.0 159.0,532.3 163.0,537.7 167.0,541.5 171.2,544.4 176.0,546.8 182.0,548.5 188.0,549.5 195.4,550.2 205.0,550.6 218.3,551.0" fill="none" stroke="#1a1a1a" stroke-width="1.5" stroke-linejoin="round"/>
<text x="159.0" y="467.5" font-size="10" text-anchor="start" font-weight="normal" fill="#222" textLength="34.0" lengthAdjust="spacingAndGlyphs" >0.7 µs</text>
<text x="196.2" y="438.0" font-size="21.5" text-anchor="start" font-weight="normal" fill="#111" textLength="25.9" lengthAdjust="spacingAndGlyphs" stroke="#111" stroke-width="0.25">(e)</text>
</g>
<g id="pf">
<polyline points="317.3,563.5 317.5,531.5 318.0,552.0 319.0,563.5 320.5,548.0 321.0,530.0 321.6,546.0 322.0,548.0" fill="none" stroke="#1c28d8" stroke-width="1.3" stroke-linejoin="round"/>
<polyline points="336.8,545.0 337.4,556.0 338.2,548.0 339.0,563.0 339.5,535.0 340.2,561.0 341.0,563.5" fill="none" stroke="#1c28d8" stroke-width="1.3" stroke-linejoin="round"/>
<polyline points="346.5,563.5 347.5,556.0 348.3,563.0 349.2,552.0 350.0,562.0 351.0,550.0 352.0,558.0 353.0,548.0 354.0,552.0 355.8,542.0 358.5,531.0 361.9,518.0 364.6,506.5 367.3,495.0 369.5,486.0 371.6,477.5 373.9,469.5 376.0,463.0 377.5,458.8 379.5,455.0 381.3,452.5 382.0,449.0 382.6,445.0 385.0,439.5 387.5,435.0 390.0,431.3 392.5,428.8 396.0,426.6 400.0,425.4 404.5,425.6 407.0,429.0 409.5,425.8 415.0,424.5 430.0,424.3 436.0,424.5 438.0,426.5 439.5,424.5 441.0,428.0 442.5,425.0 444.0,427.5 446.0,424.6 448.5,425.2 449.3,430.0 450.0,424.8 456.0,424.5 480.0,424.5 498.0,424.5 501.0,423.9 505.5,424.0" fill="none" stroke="#1c28d8" stroke-width="1.3" stroke-linejoin="round"/>
<polyline points="345.8,564.0 347.0,556.0 348.7,548.0 350.6,539.0 353.3,527.0 356.6,512.5 360.2,498.0 362.7,485.0 365.2,475.0 367.5,465.0 369.9,457.0 372.2,450.0 374.5,443.5 376.8,437.8 378.5,436.0 380.0,435.0 381.2,432.0 382.5,429.5 385.0,428.2 390.0,427.2 395.0,426.0 400.0,425.2 404.5,425.5 407.0,428.6 409.5,425.6 415.0,424.4 427.0,423.8 440.0,422.5 452.0,420.6 465.0,419.0 478.0,418.0 490.0,417.2 505.5,417.0" fill="none" stroke="#3ee01c" stroke-width="1.5" stroke-linejoin="round"/>
<polyline points="316.3,563.0 317.5,556.0 318.5,563.0 319.5,553.0 320.5,561.0 321.5,552.0 322.5,558.0 323.5,549.0 324.5,555.0 325.5,547.0 326.5,550.0 327.5,541.0 328.5,544.0 330.0,536.0 331.0,532.0 331.8,534.0 333.8,524.0 336.0,515.0 338.8,504.0 340.5,498.0 342.5,492.5 344.5,484.0 346.3,475.0 348.0,469.5 349.5,467.0 350.6,470.5 351.4,466.0 352.0,456.0 353.3,450.0 355.0,446.0 357.5,441.0 360.0,437.5 363.5,434.3 367.5,432.0 372.0,430.2 377.0,428.9 378.4,429.3 379.3,432.8 380.3,429.5 381.3,428.0 386.0,426.8 392.0,425.7 400.0,425.0 404.5,425.5 407.0,428.8 409.5,425.5 415.0,424.3 427.0,423.6 436.0,422.8 438.0,421.5 439.5,424.0 441.0,421.0 442.5,423.5 444.0,420.6 446.0,422.6 448.0,420.5 452.0,420.3 465.0,418.0 478.0,416.0 490.0,414.4 505.5,412.6" fill="none" stroke="#e0101c" stroke-width="1.5" stroke-linejoin="round"/>
<rect x="316.0" y="409.5" width="190.0" height="155.9" fill="none" stroke="#1a1a1a" stroke-width="1.6"/>
<path d="M316.0 565.4v-3.2M363.4 565.4v-3.2M410.9 565.4v-3.2M458.4 565.4v-3.2M505.8 565.4v-3.2" stroke="#1a1a1a" stroke-width="1.0" fill="none"/>
<path d="M363.4 409.5v3.2M410.9 409.5v3.2M458.4 409.5v3.2M505.8 409.5v3.2" stroke="#1a1a1a" stroke-width="1.0" fill="none"/>
<path d="M339.7 565.4v-1.8M387.2 565.4v-1.8M434.6 565.4v-1.8M482.1 565.4v-1.8" stroke="#1a1a1a" stroke-width="0.9" fill="none"/>
<path d="M339.7 409.5v1.8M387.2 409.5v1.8M434.6 409.5v1.8M482.1 409.5v1.8" stroke="#1a1a1a" stroke-width="0.9" fill="none"/>
<path d="M316.0 435.8h3.2M316.0 479.0h3.2M316.0 522.2h3.2M316.0 565.4h3.2" stroke="#1a1a1a" stroke-width="1.0" fill="none"/>
<path d="M506.0 435.8h-3.2M506.0 479.0h-3.2M506.0 522.2h-3.2M506.0 565.4h-3.2" stroke="#1a1a1a" stroke-width="1.0" fill="none"/>
<text x="294.0" y="439.7" font-size="10.8" text-anchor="start" fill="#222" letter-spacing="0.3">10<tspan font-size="6.9" dy="-6.2" letter-spacing="0">0</tspan></text>
<text x="294.0" y="482.9" font-size="10.8" text-anchor="start" fill="#222" letter-spacing="0.3">10<tspan font-size="6.9" dy="-6.2" letter-spacing="0">-1</tspan></text>
<text x="294.0" y="526.1" font-size="10.8" text-anchor="start" fill="#222" letter-spacing="0.3">10<tspan font-size="6.9" dy="-6.2" letter-spacing="0">-2</tspan></text>
<text x="294.0" y="569.3" font-size="10.8" text-anchor="start" fill="#222" letter-spacing="0.3">10<tspan font-size="6.9" dy="-6.2" letter-spacing="0">-3</tspan></text>
<text x="315.8" y="576.8" font-size="10.2" text-anchor="middle" font-weight="normal" fill="#222" letter-spacing="0.2" >1000</text>
<text x="362.6" y="576.8" font-size="10.2" text-anchor="middle" font-weight="normal" fill="#222" letter-spacing="0.2" >2000</text>
<text x="410.0" y="576.8" font-size="10.2" text-anchor="middle" font-weight="normal" fill="#222" letter-spacing="0.2" >3000</text>
<text x="457.5" y="576.8" font-size="10.2" text-anchor="middle" font-weight="normal" fill="#222" letter-spacing="0.2" >4000</text>
<text x="504.9" y="576.8" font-size="10.2" text-anchor="middle" font-weight="normal" fill="#222" letter-spacing="0.2" >5000</text>
<text x="410.6" y="597.0" font-size="12" text-anchor="middle" font-weight="normal" fill="#222" textLength="112.8" lengthAdjust="spacing" >Frequency (cm-1)</text>
<text transform="translate(283.0 487.4) rotate(-90)" font-size="11.5" text-anchor="middle" font-weight="normal" fill="#222" textLength="143.6" lengthAdjust="spacingAndGlyphs">Photoresponse (Arb. Units)</text>
<text x="342.5" y="454.6" font-size="10" text-anchor="middle" font-weight="normal" fill="#222" >1</text>
<text x="363.3" y="459.3" font-size="10" text-anchor="middle" font-weight="normal" fill="#222" >2</text>
<text x="385.3" y="468.2" font-size="10" text-anchor="middle" font-weight="normal" fill="#222" >3</text>
<text x="324.8" y="434.7" font-size="21.5" text-anchor="start" font-weight="normal" fill="#111" textLength="20.3" lengthAdjust="spacingAndGlyphs" stroke="#111" stroke-width="0.25">(f)</text>
</g>
</g>
</svg></body></html>
